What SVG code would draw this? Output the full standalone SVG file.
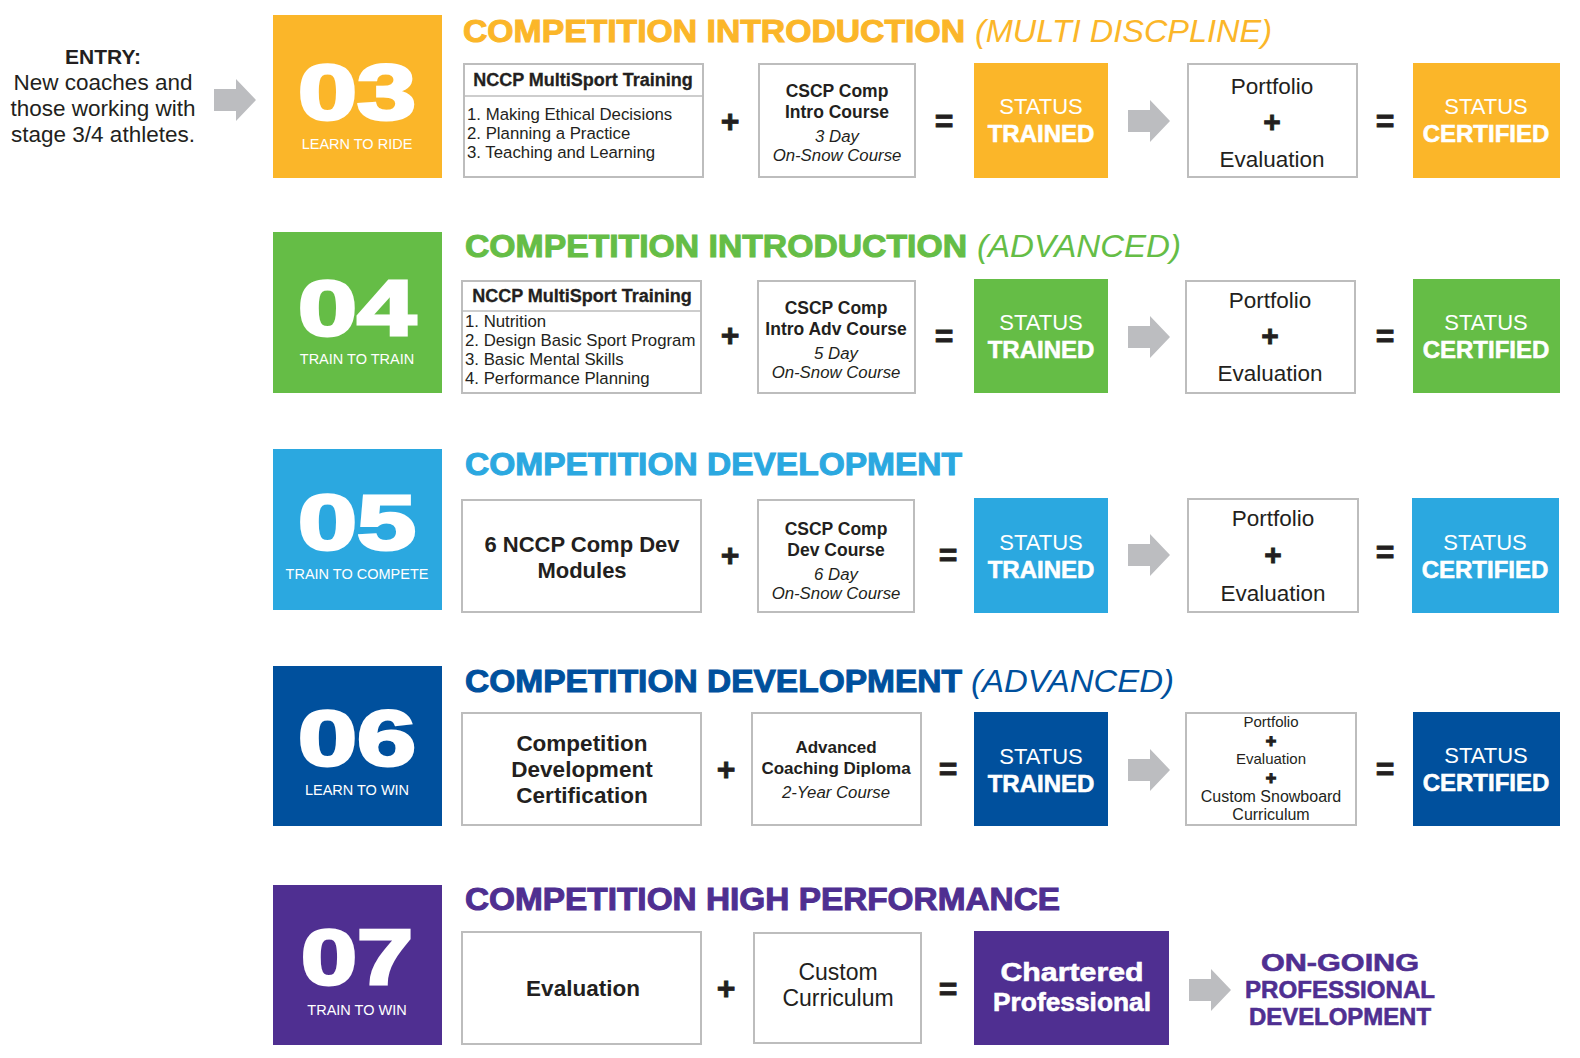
<svg xmlns="http://www.w3.org/2000/svg" xmlns:xlink="http://www.w3.org/1999/xlink" width="1580" height="1058" viewBox="0 0 1580 1058">
<defs>
<style>
text{font-family:"Liberation Sans",Arial,sans-serif;fill:#231F20}
.c{text-anchor:middle}
.b{font-weight:bold}
.i{font-style:italic}
.w{fill:#fff}
.box{fill:#fff;stroke:#BDBDBD;stroke-width:2}
.title{font-size:31px;font-weight:bold;stroke-width:1}
.ti{font-size:31px;font-style:italic;font-weight:normal}
.num{font-size:78px;font-weight:bold;fill:#fff;stroke:#fff;stroke-width:3;text-anchor:middle}
.stage{font-size:14.5px;fill:#fff;text-anchor:middle}
.op{font-size:32px;font-weight:bold;text-anchor:middle;stroke:#231F20;stroke-width:0.8}
.st{font-size:22px;fill:#fff;text-anchor:middle}
.stb{font-size:24px;font-weight:bold;fill:#fff;text-anchor:middle;stroke:#fff;stroke-width:0.6}
.li{font-size:16.8px}
.hd{font-size:18px;font-weight:bold;text-anchor:middle;stroke:#231F20;stroke-width:0.3}
.cb{font-size:17.5px;font-weight:bold;text-anchor:middle}
.ci{font-size:16.8px;font-style:italic;text-anchor:middle}
.pf{font-size:22.5px;text-anchor:middle}
.pp{font-size:30px;font-weight:bold;text-anchor:middle;stroke:#231F20;stroke-width:0.8}
.sp{font-size:18px;font-weight:bold;text-anchor:middle;stroke:#231F20;stroke-width:1.2}
.arr{fill:#BCBDC0}
.y{fill:#FBB629}.g{fill:#65BD46}.lb{fill:#2BA8E0}.db{fill:#00509D}.p{fill:#4F2F91}
</style>
<path id="arrow" d="M0,10 H22 V0 L42,21 L22,42 V32 H0 Z"/>
</defs>

<g id="entry">
<text x="103" y="64" class="c b" font-size="21">ENTRY:</text>
<text x="103" y="90" class="c" font-size="22.5">New coaches and</text>
<text x="103" y="116" class="c" font-size="22.5">those working with</text>
<text x="103" y="142" class="c" font-size="22.5">stage 3/4 athletes.</text>
</g>

<g id="connectors">
<use xlink:href="#arrow" class="arr" x="214" y="79"/>
<use xlink:href="#arrow" class="arr" x="1128" y="100"/>
<use xlink:href="#arrow" class="arr" x="1128" y="316"/>
<use xlink:href="#arrow" class="arr" x="1128" y="534"/>
<use xlink:href="#arrow" class="arr" x="1128" y="749"/>
<use xlink:href="#arrow" class="arr" x="1189" y="969"/>
</g>

<!-- ROW 03 -->
<g id="stage03">
<rect x="273" y="15" width="169" height="163" class="y"/>
<text x="357" y="119" class="num" textLength="118" lengthAdjust="spacingAndGlyphs">03</text>
<text x="357" y="149" class="stage">LEARN TO RIDE</text>
</g>
<g id="title03">
<text x="463" y="42" class="title y" stroke="#FBB629" textLength="502" lengthAdjust="spacingAndGlyphs">COMPETITION INTRODUCTION</text>
<text x="975" y="42" class="ti y" textLength="297" lengthAdjust="spacingAndGlyphs">(MULTI DISCPLINE)</text>
</g>
<g id="nccp03">
<rect x="464" y="64" width="239" height="113" class="box"/>
<line x1="464" y1="96" x2="703" y2="96" stroke="#BDBDBD" stroke-width="1.5"/>
<text x="583" y="86" class="hd">NCCP MultiSport Training</text>
<text x="467" y="120" class="li">1. Making Ethical Decisions</text>
<text x="467" y="139" class="li">2. Planning a Practice</text>
<text x="467" y="158" class="li">3. Teaching and Learning</text>
</g>
<text x="730" y="132" class="op">+</text>
<g id="cscp03">
<rect x="759" y="64" width="156" height="113" class="box"/>
<text x="837" y="97" class="cb">CSCP Comp</text>
<text x="837" y="118" class="cb">Intro Course</text>
<text x="837" y="142" class="ci">3 Day</text>
<text x="837" y="161" class="ci">On-Snow Course</text>
</g>
<text x="944" y="132" class="op">=</text>
<g id="trained03">
<rect x="974" y="63" width="134" height="115" class="y"/>
<text x="1041" y="114" class="st">STATUS</text>
<text x="1041" y="142" class="stb">TRAINED</text>
</g>
<g id="portfolio03">
<rect x="1188" y="64" width="169" height="113" class="box"/>
<text x="1272" y="94" class="pf">Portfolio</text>
<text x="1272" y="132" class="pp">+</text>
<text x="1272" y="167" class="pf">Evaluation</text>
</g>
<text x="1385" y="132" class="op">=</text>
<g id="certified03">
<rect x="1413" y="63" width="147" height="115" class="y"/>
<text x="1486" y="114" class="st">STATUS</text>
<text x="1486" y="142" class="stb">CERTIFIED</text>
</g>

<!-- ROW 04 -->
<g id="stage04">
<rect x="273" y="232" width="169" height="161" class="g"/>
<text x="357" y="335" class="num" textLength="118" lengthAdjust="spacingAndGlyphs">04</text>
<text x="357" y="364" class="stage">TRAIN TO TRAIN</text>
</g>
<g id="title04">
<text x="465" y="257" class="title g" stroke="#65BD46" textLength="502" lengthAdjust="spacingAndGlyphs">COMPETITION INTRODUCTION</text>
<text x="977" y="257" class="ti g" textLength="204" lengthAdjust="spacingAndGlyphs">(ADVANCED)</text>
</g>
<g id="nccp04">
<rect x="462" y="281" width="239" height="112" class="box"/>
<line x1="462" y1="311" x2="701" y2="311" stroke="#BDBDBD" stroke-width="1.5"/>
<text x="582" y="302" class="hd">NCCP MultiSport Training</text>
<text x="465" y="327" class="li">1. Nutrition</text>
<text x="465" y="346" class="li">2. Design Basic Sport Program</text>
<text x="465" y="365" class="li">3. Basic Mental Skills</text>
<text x="465" y="384" class="li">4. Performance Planning</text>
</g>
<text x="730" y="346" class="op">+</text>
<g id="cscp04">
<rect x="758" y="281" width="157" height="112" class="box"/>
<text x="836" y="314" class="cb">CSCP Comp</text>
<text x="836" y="335" class="cb">Intro Adv Course</text>
<text x="836" y="359" class="ci">5 Day</text>
<text x="836" y="378" class="ci">On-Snow Course</text>
</g>
<text x="944" y="347" class="op">=</text>
<g id="trained04">
<rect x="974" y="279" width="134" height="114" class="g"/>
<text x="1041" y="330" class="st">STATUS</text>
<text x="1041" y="358" class="stb">TRAINED</text>
</g>
<g id="portfolio04">
<rect x="1186" y="281" width="169" height="112" class="box"/>
<text x="1270" y="308" class="pf">Portfolio</text>
<text x="1270" y="346" class="pp">+</text>
<text x="1270" y="381" class="pf">Evaluation</text>
</g>
<text x="1385" y="347" class="op">=</text>
<g id="certified04">
<rect x="1413" y="279" width="147" height="114" class="g"/>
<text x="1486" y="330" class="st">STATUS</text>
<text x="1486" y="358" class="stb">CERTIFIED</text>
</g>

<!-- ROW 05 -->
<g id="stage05">
<rect x="273" y="449" width="169" height="161" class="lb"/>
<text x="357" y="549" class="num" textLength="118" lengthAdjust="spacingAndGlyphs">05</text>
<text x="357" y="579" class="stage">TRAIN TO COMPETE</text>
</g>
<g id="title05">
<text x="465" y="475" class="title lb" stroke="#2BA8E0" textLength="497" lengthAdjust="spacingAndGlyphs">COMPETITION DEVELOPMENT</text>
</g>
<g id="nccp05">
<rect x="462" y="500" width="239" height="112" class="box"/>
<text x="582" y="552" class="c b" font-size="22">6 NCCP Comp Dev</text>
<text x="582" y="578" class="c b" font-size="22">Modules</text>
</g>
<text x="730" y="566" class="op">+</text>
<g id="cscp05">
<rect x="758" y="500" width="156" height="112" class="box"/>
<text x="836" y="535" class="cb">CSCP Comp</text>
<text x="836" y="556" class="cb">Dev Course</text>
<text x="836" y="580" class="ci">6 Day</text>
<text x="836" y="599" class="ci">On-Snow Course</text>
</g>
<text x="948" y="566" class="op">=</text>
<g id="trained05">
<rect x="974" y="498" width="134" height="115" class="lb"/>
<text x="1041" y="550" class="st">STATUS</text>
<text x="1041" y="578" class="stb">TRAINED</text>
</g>
<g id="portfolio05">
<rect x="1188" y="499" width="170" height="113" class="box"/>
<text x="1273" y="526" class="pf">Portfolio</text>
<text x="1273" y="565" class="pp">+</text>
<text x="1273" y="601" class="pf">Evaluation</text>
</g>
<text x="1385" y="563" class="op">=</text>
<g id="certified05">
<rect x="1412" y="498" width="147" height="115" class="lb"/>
<text x="1485" y="550" class="st">STATUS</text>
<text x="1485" y="578" class="stb">CERTIFIED</text>
</g>

<!-- ROW 06 -->
<g id="stage06">
<rect x="273" y="666" width="169" height="160" class="db"/>
<text x="357" y="765" class="num" textLength="118" lengthAdjust="spacingAndGlyphs">06</text>
<text x="357" y="795" class="stage">LEARN TO WIN</text>
</g>
<g id="title06">
<text x="465" y="692" class="title db" stroke="#00509D" textLength="497" lengthAdjust="spacingAndGlyphs">COMPETITION DEVELOPMENT</text>
<text x="971" y="692" class="ti db" textLength="203" lengthAdjust="spacingAndGlyphs">(ADVANCED)</text>
</g>
<g id="ccd06">
<rect x="462" y="713" width="239" height="112" class="box"/>
<text x="582" y="751" class="c b" font-size="22.5">Competition</text>
<text x="582" y="777" class="c b" font-size="22.5">Development</text>
<text x="582" y="803" class="c b" font-size="22.5">Certification</text>
</g>
<text x="726" y="780" class="op">+</text>
<g id="acd06">
<rect x="752" y="713" width="169" height="112" class="box"/>
<text x="836" y="753" class="c b" font-size="17">Advanced</text>
<text x="836" y="774" class="c b" font-size="17">Coaching Diploma</text>
<text x="836" y="798" class="ci">2-Year Course</text>
</g>
<text x="948" y="780" class="op">=</text>
<g id="trained06">
<rect x="974" y="712" width="134" height="114" class="db"/>
<text x="1041" y="764" class="st">STATUS</text>
<text x="1041" y="792" class="stb">TRAINED</text>
</g>
<g id="portfolio06">
<rect x="1186" y="713" width="170" height="112" class="box"/>
<text x="1271" y="727" class="c" font-size="15">Portfolio</text>
<text x="1271" y="747" class="sp">+</text>
<text x="1271" y="764" class="c" font-size="15">Evaluation</text>
<text x="1271" y="784" class="sp">+</text>
<text x="1271" y="802" class="c" font-size="16">Custom Snowboard</text>
<text x="1271" y="820" class="c" font-size="16">Curriculum</text>
</g>
<text x="1385" y="780" class="op">=</text>
<g id="certified06">
<rect x="1413" y="712" width="147" height="114" class="db"/>
<text x="1486" y="763" class="st">STATUS</text>
<text x="1486" y="791" class="stb">CERTIFIED</text>
</g>

<!-- ROW 07 -->
<g id="stage07">
<rect x="273" y="885" width="169" height="160" class="p"/>
<text x="357" y="984" class="num" textLength="112" lengthAdjust="spacingAndGlyphs">07</text>
<text x="357" y="1015" class="stage">TRAIN TO WIN</text>
</g>
<g id="title07">
<text x="465" y="910" class="title p" stroke="#4F2F91" textLength="595" lengthAdjust="spacingAndGlyphs">COMPETITION HIGH PERFORMANCE</text>
</g>
<g id="eval07">
<rect x="462" y="932" width="239" height="112" class="box"/>
<text x="583" y="996" class="c b" font-size="22.5">Evaluation</text>
</g>
<text x="726" y="999" class="op">+</text>
<g id="custom07">
<rect x="754" y="933" width="167" height="110" class="box"/>
<text x="838" y="980" class="c" font-size="23">Custom</text>
<text x="838" y="1006" class="c" font-size="23">Curriculum</text>
</g>
<text x="948" y="1000" class="op">=</text>
<g id="chartered07">
<rect x="974" y="931" width="195" height="114" class="p"/>
<text x="1072" y="981" class="c b w" font-size="26.5" stroke="#fff" stroke-width="0.6" textLength="143" lengthAdjust="spacingAndGlyphs">Chartered</text>
<text x="1072" y="1011" class="c b w" font-size="26.5" stroke="#fff" stroke-width="0.6" textLength="158" lengthAdjust="spacingAndGlyphs">Professional</text>
</g>
<g id="ongoing07">
<text x="1340" y="971" class="c b p" font-size="24" stroke="#4F2F91" stroke-width="0.6" textLength="158" lengthAdjust="spacingAndGlyphs">ON-GOING</text>
<text x="1340" y="998" class="c b p" font-size="24" stroke="#4F2F91" stroke-width="0.6" textLength="190" lengthAdjust="spacingAndGlyphs">PROFESSIONAL</text>
<text x="1340" y="1025" class="c b p" font-size="24" stroke="#4F2F91" stroke-width="0.6" textLength="182" lengthAdjust="spacingAndGlyphs">DEVELOPMENT</text>
</g>
</svg>
